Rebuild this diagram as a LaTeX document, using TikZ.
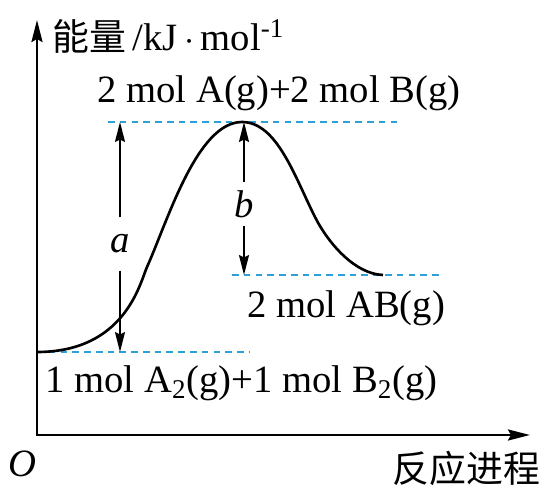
\documentclass[tikz,border=0pt]{standalone}
\usepackage{fontspec}
\setmainfont{Liberation Serif}
\newfontfamily\cjk{Noto Sans CJK SC}
\usetikzlibrary{arrows.meta}
\definecolor{guide}{RGB}{45,160,215}
\tikzset{axis/.style={line width=1.5pt, arrows={Stealth[length=0.44cm,width=0.22cm,inset=0.06cm]-Stealth[length=0.44cm,width=0.22cm,inset=0.06cm]}}}
\tikzset{level/.style={draw=guide, line width=1.2pt, dash pattern=on 3.8pt off 2.9pt}}
\tikzset{gap/.style={draw, line width=1.1pt, -{Stealth[length=0.4cm,width=0.2cm,inset=0.05cm]}}}
\tikzset{lab/.style={inner sep=0pt, font=\fontsize{22}{26}\selectfont}}
\tikzset{cn/.style={inner sep=0pt, font=\fontsize{21}{25}\selectfont\cjk}}

\begin{document}
\begin{tikzpicture}[x=0.02cm, y=-0.02cm]
            \useasboundingbox (0,0) rectangle (552,500);
            % axes
            \coordinate (O) at (37,435);
            \coordinate (ytip) at (37,20);
            \coordinate (xtip) at (530,435);
            % energy levels
            \coordinate (hiL) at (108,122);  \coordinate (hiR) at (397,122);
            \coordinate (mdL) at (232,275);  \coordinate (mdR) at (440,275);
            \coordinate (loL) at (37,352);   \coordinate (loR) at (250,352);
            \draw[level] (hiL) -- (hiR);
            \draw[level] (mdL) -- (mdR);
            \draw[level] (loL) -- (loR);

            \draw[line width=1.5pt] (loL)
                .. controls (125,352) and (140,283) .. (147,267)
                .. controls (167.5,221.5) and (197,122) .. (242,122)
                .. controls (277,122) and (294.8,177) .. (315,217)
                .. controls (328.5,243.7) and (355,274) .. (383,275);

            % a and b
            \coordinate (atop) at (120,122);
            \coordinate (abot) at (120,352);
            \coordinate (btop) at (244,122);
            \coordinate (bbot) at (244,275);
            \node[lab, inner ysep=0.34cm] (a) at (120,244) {\textit{a}};
            \node[lab, inner ysep=0.16cm] (b) at (244,204) {\textit{b}};
            \draw[gap] (a) -- (atop);
            \draw[gap] (a) -- (abot);
            \draw[gap] (b) -- (btop);
            \draw[gap] (b) -- (bbot);

            \draw[axis] (ytip) |- (xtip);

            \node[lab, anchor=base west] (ylab) at (52,51) {{\cjk\fontsize{21}{25}\selectfont 能量}\,/kJ\,$\cdot$\,mol\textsuperscript{-1}};
            \node[lab, anchor=base west] (hi) at (97,103) {2 mol A(g)+2 mol B(g)};
            \node[lab, anchor=base west] (md) at (247,317) {2 mol AB(g)};
            \node[lab, anchor=base west] (lo) at (45,393) {1 mol A\textsubscript{2}(g)+1 mol B\textsubscript{2}(g)};
            \node[lab, anchor=base] (o) at (22,477) {\textit{O}};
            \node[cn, anchor=base west] (xlab) at (392,482) {反应进程};

        \end{tikzpicture}
\end{document}
